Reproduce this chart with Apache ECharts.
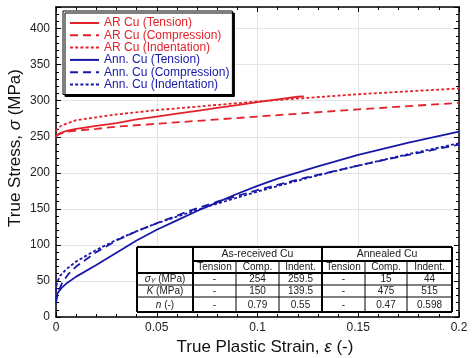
<!DOCTYPE html>
<html><head><meta charset="utf-8">
<script src="https://cdn.jsdelivr.net/npm/echarts@6/dist/echarts.min.js"></script>
<style>html,body{margin:0;padding:0;background:#fff}#c{width:474px;height:358px}</style>
</head><body><div id="c"></div>
<script>
// ---- data ----
const seriesNames = ['AR Cu (Tension)','AR Cu (Compression)','AR Cu (Indentation)','Ann. Cu (Tension)','Ann. Cu (Compression)','Ann. Cu (Indentation)'];
const arTension = [[0,249],[0.0005,252],[0.002,255],[0.005,258],[0.01,261],[0.02,265],[0.03,269],[0.04,274],[0.05,278],[0.06,282],[0.07,286],[0.08,290],[0.09,294],[0.1,298],[0.11,302],[0.12,305.5],[0.123,306]];
const arCompression = [[0,251],[0.001,253],[0.003,255],[0.006,257],[0.01,258.5],[0.02,261],[0.03,264],[0.05,268],[0.075,273],[0.1,278],[0.125,283],[0.15,288],[0.175,292.5],[0.2,297]];
const arIndentation = [[0,258],[0.001,262],[0.003,266],[0.006,269],[0.01,273],[0.02,277],[0.03,281],[0.05,287],[0.075,293],[0.1,299],[0.125,304],[0.15,309],[0.175,313],[0.2,317]];
const annTension = [[0,27],[0.001,34],[0.003,41],[0.005,46],[0.01,56],[0.02,72],[0.03,89],[0.04,106],[0.05,121],[0.06,134],[0.07,147],[0.08,159],[0.09,171],[0.1,182],[0.11,192],[0.13,209],[0.15,225],[0.175,242],[0.2,257]];
const annCompression = [[0,20],[0.001,34],[0.003,47],[0.006,59],[0.01,70],[0.02,90],[0.03,106],[0.04,119],[0.05,130],[0.065,146],[0.08,160],[0.1,176],[0.125,194],[0.15,210],[0.175,225],[0.2,239]];
const annIndentation = [[0,36],[0.0005,48],[0.002,57],[0.005,66],[0.01,77],[0.02,93],[0.03,107],[0.04,119],[0.05,130],[0.075,153],[0.1,174],[0.125,193],[0.15,210],[0.175,226],[0.2,241]];

const tableGroups = ['As-received Cu','Annealed Cu'];
const tableTests = ['Tension','Comp.','Indent.','Tension','Comp.','Indent.'];
const tableRowLabels = ['{i|σ}{s|Y} (MPa)','{i|K} (MPa)','{i|n} (-)'];
const sigmaYRow = ['-','254','259.5','-','15','44'];
const kRow = ['-','150','139.5','-','475','515'];
const nRow = ['-','0.79','0.55','-','0.47','0.598'];

const xTitle = 'True Plastic Strain, {i|ε} (-)';
const yTitle = 'True Stress, {i|σ} (MPa)';

// ---- styling ----
const RED = '#e3232b', BLUE = '#1818a8';
const FONT = 'Arial, "Liberation Sans", sans-serif';
const dashed = [8,5], dotted = [3,2.2];

function mkSeries(name, data, color, type){
  return {name, type:'line', data, showSymbol:false, symbol:'none', smooth:false,
    lineStyle:{color, width:1.8, type}, itemStyle:{color}, z:3};
}

// table geometry (annotation)
const colX = [137,193,236,279,322,365,407,452];
const rowY = [247,261,273,285,297,312];
const g = [];
g.push({type:'rect', shape:{x:colX[0],y:rowY[0],width:colX[7]-colX[0],height:rowY[5]-rowY[0]}, style:{fill:'#fff'}, z:10});
function line(x1,y1,x2,y2,w){ g.push({type:'line', shape:{x1,y1,x2,y2}, style:{stroke:'#000', lineWidth:w}, z:12}); }
function txt(t,x,y,extra){ g.push({type:'text', z:13, style:Object.assign({text:t,x,y,align:'center',verticalAlign:'middle',fill:'#222',font:'10px '+FONT}, extra||{})}); }
line(colX[0],rowY[0],colX[7],rowY[0],2);
line(colX[1],rowY[1],colX[7],rowY[1],2);
line(colX[0],rowY[2],colX[7],rowY[2],2);
line(colX[0],rowY[3],colX[7],rowY[3],1);
line(colX[0],rowY[4],colX[7],rowY[4],1);
line(colX[0],rowY[5],colX[7],rowY[5],2);
line(colX[0],rowY[0],colX[0],rowY[5],2);
line(colX[1],rowY[0],colX[1],rowY[5],2);
line(colX[4],rowY[0],colX[4],rowY[5],2);
line(colX[7],rowY[0],colX[7],rowY[5],2);
[2,3,5,6].forEach(c=>line(colX[c],rowY[1],colX[c],rowY[5],1));
txt(tableGroups[0],(colX[1]+colX[4])/2,(rowY[0]+rowY[1])/2+0.5,{font:'10.5px '+FONT});
txt(tableGroups[1],(colX[4]+colX[7])/2,(rowY[0]+rowY[1])/2+0.5,{font:'10.5px '+FONT});
tableTests.forEach((t,i)=>txt(t,(colX[i+1]+colX[i+2])/2,(rowY[1]+rowY[2])/2+0.5));
const rich = {i:{fontStyle:'italic',fontSize:10,fontFamily:FONT,fill:'#222'}, s:{fontStyle:'italic',fontSize:7,fontFamily:FONT,padding:[4,0,0,0],fill:'#222'}};
[sigmaYRow,kRow,nRow].forEach((row,r)=>{
  const cy=(rowY[r+2]+rowY[r+3])/2+0.5;
  txt(tableRowLabels[r],(colX[0]+colX[1])/2,cy,{rich});
  row.forEach((v,i)=>txt(v,(colX[i+1]+colX[i+2])/2,cy));
});
const trich = {i:{fontStyle:'italic',fontSize:17,fontFamily:FONT,fill:'#111'}};
g.push({type:'text', z:13, x:15, y:148, rotation:Math.PI/2, style:{text:yTitle,x:0,y:0,align:'center',verticalAlign:'middle',fill:'#111',font:'17px '+FONT,rich:trich}});
g.push({type:'text', z:13, style:{text:xTitle,x:265,y:347,align:'center',verticalAlign:'middle',fill:'#111',font:'17px '+FONT,rich:trich}});

const axisCommon = {
  axisLine:{show:true,onZero:false,lineStyle:{color:'#000',width:1.5}},
  axisTick:{show:true,inside:true,length:5,lineStyle:{color:'#000',width:1}},
  minorTick:{show:true,splitNumber:5,length:3,lineStyle:{color:'#000',width:1}},
};
const chart = echarts.init(document.getElementById('c'), null, {renderer:'canvas'});
chart.setOption({
  animation:false,
  backgroundColor:'#fff',
  grid:{left:56,right:15,top:7,bottom:41,containLabel:false},
  xAxis:[
    Object.assign({type:'value',min:0,max:0.2,interval:0.05,position:'bottom',
      splitLine:{show:true,lineStyle:{color:'#e4e4e4',width:1}},
      axisLabel:{fontSize:12,color:'#222',margin:5,fontFamily:FONT}}, axisCommon),
    Object.assign({type:'value',min:0,max:0.2,interval:0.05,position:'top',
      splitLine:{show:false},axisLabel:{show:false}}, axisCommon)
  ],
  yAxis:[
    Object.assign({type:'value',min:0,max:430,interval:50,position:'left',
      splitLine:{show:true,lineStyle:{color:'#e4e4e4',width:1}},
      axisLabel:{fontSize:12,color:'#222',margin:6,fontFamily:FONT,showMaxLabel:false}}, axisCommon),
    Object.assign({type:'value',min:0,max:430,interval:50,position:'right',
      splitLine:{show:false},axisLabel:{show:false}}, axisCommon)
  ],
  legend:{
    orient:'vertical', left:63, top:11, padding:[6,3,4,6],
    itemWidth:29, itemHeight:10, itemGap:0.3,
    itemStyle:{opacity:0},
    backgroundColor:'#fff', borderColor:'#000', borderWidth:1,
    shadowColor:'#000', shadowBlur:0, shadowOffsetX:2, shadowOffsetY:2,
    textStyle:{fontSize:12,fontFamily:FONT,lineHeight:12},
    data: seriesNames.map((n,i)=>({name:n, textStyle:{color: i<3?RED:BLUE}}))
  },
  graphic:g,
  series:[
    mkSeries(seriesNames[0], arTension, RED, 'solid'),
    mkSeries(seriesNames[1], arCompression, RED, dashed),
    mkSeries(seriesNames[2], arIndentation, RED, dotted),
    mkSeries(seriesNames[3], annTension, BLUE, 'solid'),
    mkSeries(seriesNames[4], annCompression, BLUE, dashed),
    mkSeries(seriesNames[5], annIndentation, BLUE, dotted)
  ]
});
</script></body></html>
